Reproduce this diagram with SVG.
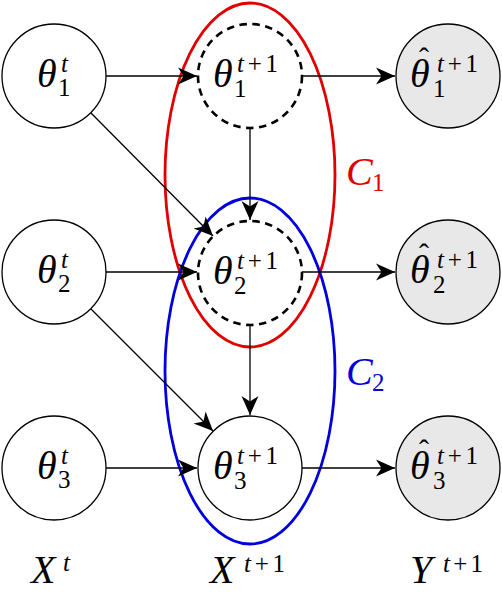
<svg xmlns="http://www.w3.org/2000/svg" width="502" height="593" viewBox="0 0 502 593">
<style>
.node{fill:#fff;stroke:#000;stroke-width:1.3}
.dash{fill:#fff;stroke:#000;stroke-width:2.6;stroke-dasharray:7.5 5.5}
.obs{fill:#e8e8e8;stroke:#000;stroke-width:1.3}
.edge{stroke:#000;stroke-width:1.3;fill:none;marker-end:url(#arr)}
.m{font-family:"Liberation Serif","Times New Roman",serif;font-style:italic;font-size:40px;fill:#000}
.s{font-family:"Liberation Serif","Times New Roman",serif;font-size:25px;fill:#000}
.h{font-size:30px;font-style:normal}
.i{font-style:italic}
</style>
<defs>
<marker id="arr" markerUnits="userSpaceOnUse" viewBox="-20 -10 22 20" refX="0" refY="0" markerWidth="22" markerHeight="20" orient="auto">
<path d="M0,0 L-19,-8.5 L-13.5,0 L-19,8.5 Z" fill="#000"/>
</marker>
</defs>
<rect width="502" height="593" fill="#fff"/>
<g id="C1">
<ellipse cx="250" cy="175" rx="85" ry="172" fill="none" stroke="#e00000" stroke-width="2.8"/>
<text x="346" y="185" class="m" style="fill:#e00000">C</text>
<text x="372" y="191" class="s" style="fill:#e00000">1</text>
</g>
<g id="C2">
<ellipse cx="250" cy="371" rx="85" ry="173" fill="none" stroke="#0000dd" stroke-width="2.8"/>
<text x="346" y="385" class="m" style="fill:#0000dd">C</text>
<text x="372" y="391" class="s" style="fill:#0000dd">2</text>
</g>
<g id="theta1t">
<circle cx="54" cy="76" r="52" class="node"/>
<text x="37" y="87" class="m">θ</text>
<text x="61" y="72" class="s i">t</text>
<text x="58" y="96" class="s">1</text>
</g>
<g id="theta2t">
<circle cx="54" cy="272" r="52" class="node"/>
<text x="37" y="283" class="m">θ</text>
<text x="61" y="268" class="s i">t</text>
<text x="58" y="292" class="s">2</text>
</g>
<g id="theta3t">
<circle cx="54" cy="468" r="52" class="node"/>
<text x="37" y="479" class="m">θ</text>
<text x="61" y="464" class="s i">t</text>
<text x="58" y="488" class="s">3</text>
</g>
<g id="theta1t1">
<circle cx="250" cy="76" r="52" class="dash"/>
<text x="213" y="87" class="m">θ</text>
<text x="237" y="72" class="s" textLength="41" lengthAdjust="spacing"><tspan class="i">t</tspan>+1</text>
<text x="234" y="97" class="s">1</text>
</g>
<g id="theta2t1">
<circle cx="250" cy="273" r="52" class="dash"/>
<text x="213" y="284" class="m">θ</text>
<text x="237" y="269" class="s" textLength="41" lengthAdjust="spacing"><tspan class="i">t</tspan>+1</text>
<text x="234" y="294" class="s">2</text>
</g>
<g id="theta3t1">
<circle cx="250" cy="468" r="52" class="node"/>
<text x="213" y="479" class="m">θ</text>
<text x="237" y="464" class="s" textLength="41" lengthAdjust="spacing"><tspan class="i">t</tspan>+1</text>
<text x="234" y="489" class="s">3</text>
</g>
<g id="hat1">
<circle cx="448" cy="76" r="52" class="obs"/>
<text x="410" y="87" class="m">θ<tspan x="419" y="68" class="h">ˆ</tspan></text>
<text x="437" y="72" class="s" textLength="41" lengthAdjust="spacing"><tspan class="i">t</tspan>+1</text>
<text x="433" y="97" class="s">1</text>
</g>
<g id="hat2">
<circle cx="448" cy="272" r="52" class="obs"/>
<text x="410" y="283" class="m">θ<tspan x="419" y="264" class="h">ˆ</tspan></text>
<text x="437" y="268" class="s" textLength="41" lengthAdjust="spacing"><tspan class="i">t</tspan>+1</text>
<text x="433" y="293" class="s">2</text>
</g>
<g id="hat3">
<circle cx="448" cy="468" r="52" class="obs"/>
<text x="410" y="479" class="m">θ<tspan x="419" y="460" class="h">ˆ</tspan></text>
<text x="437" y="464" class="s" textLength="41" lengthAdjust="spacing"><tspan class="i">t</tspan>+1</text>
<text x="433" y="489" class="s">3</text>
</g>
<g id="connectors">
<line x1="106" y1="76" x2="197" y2="76" class="edge"/>
<line x1="106" y1="272" x2="197" y2="272" class="edge"/>
<line x1="106" y1="468" x2="197" y2="468" class="edge"/>
<line x1="302" y1="76" x2="395" y2="76" class="edge"/>
<line x1="302" y1="272" x2="395" y2="272" class="edge"/>
<line x1="302" y1="468" x2="395" y2="468" class="edge"/>
<line x1="250" y1="128" x2="250" y2="220" class="edge"/>
<line x1="250" y1="325" x2="250" y2="415" class="edge"/>
<line x1="91" y1="113" x2="213" y2="236" class="edge"/>
<line x1="91" y1="309" x2="213" y2="431" class="edge"/>
</g>
<g id="labels">
<text x="31" y="583" class="m">X</text>
<text x="63" y="571" class="s i">t</text>
<text x="210" y="583" class="m">X</text>
<text x="244" y="572" class="s" textLength="41" lengthAdjust="spacing"><tspan class="i">t</tspan>+1</text>
<text x="410" y="583" class="m">Y</text>
<text x="443" y="572" class="s" textLength="40" lengthAdjust="spacing"><tspan class="i">t</tspan>+1</text>
</g>
</svg>
